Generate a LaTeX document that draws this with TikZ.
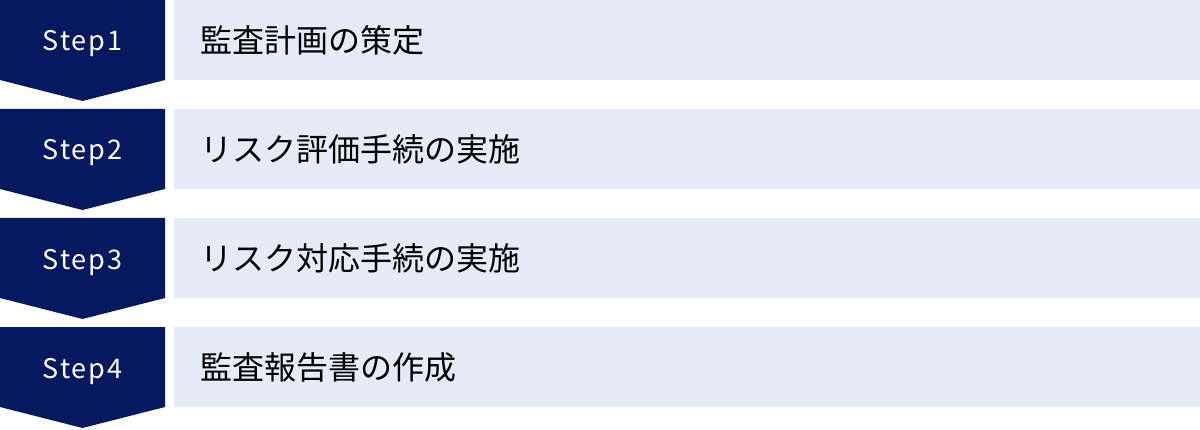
\documentclass[tikz,border=0pt]{standalone}
\usepackage{fontspec}
\setmainfont{Noto Sans CJK JP}
\newfontfamily\stepfont[LetterSpace=7]{Noto Sans CJK JP}
\definecolor{navy}{RGB}{5,24,96}
\definecolor{pale}{RGB}{230,235,248}
\tikzset{
  steplabel/.style={text=white,anchor=base,font=\stepfont\fontsize{27}{27}\selectfont},
  bar/.style={fill=pale,anchor=north west,minimum height=80pt,text width=974pt,
    inner xsep=26pt,inner ysep=0pt,align=left,font=\fontsize{32}{32}\selectfont}
}

\begin{document}
\begin{tikzpicture}[x=1pt,y=1pt]
\useasboundingbox (0,0) rectangle (1200,429);
% chevrons
\foreach \t in {429,320,211,102}
  \fill[navy] (0,\t) -- (165,\t) -- (165,\t-80) -- (82.5,\t-101) -- (0,\t-80) -- cycle;
\node[steplabel] at (82.5,378) (s1) {Step1};
\node[steplabel] at (82.5,269) (s2) {Step2};
\node[steplabel] at (82.5,160) (s3) {Step3};
\node[steplabel] at (82.5,51) (s4) {Step4};
% bars
\node[bar] at (174,429) (b1) {監査計画の策定};
\node[bar] at (174,320) (b2) {リスク評価手続の実施};
\node[bar] at (174,211) (b3) {リスク対応手続の実施};
\node[bar] at (174,102) (b4) {監査報告書の作成};
\end{tikzpicture}
\end{document}
